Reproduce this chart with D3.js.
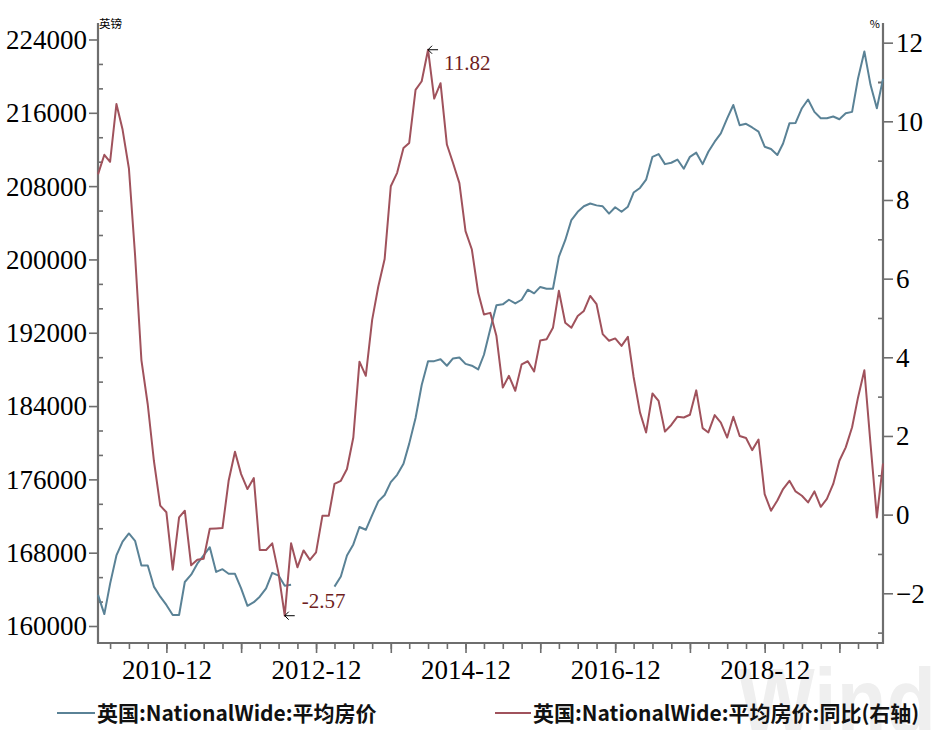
<!DOCTYPE html>
<html><head><meta charset="utf-8">
<script src="https://cdn.jsdelivr.net/npm/d3@7"></script>
<style>body{margin:0;background:#fff;} svg{display:block;}</style>
</head><body>
<svg id="c" width="944" height="730"></svg>
<script>
// ---- data ----
const startMonth = "2010-01";
const endMonth = "2020-07";
// 英国:NationalWide:平均房价 (英镑), monthly from 2010-01
const priceValues = [
163400,161300,164600,167700,169200,170100,169300,166600,166600,164300,163200,162300,
161200,161200,164800,165600,166800,167700,168600,165900,166200,165700,165700,164100,
162200,162600,163200,164100,165800,165500,164400,164500,null,null,null,null,
null,null,164300,165400,167700,168900,170800,170500,172100,173600,174300,175700,
176500,177700,179900,182700,186300,188900,188900,189100,188400,189200,189300,188600,
188400,188000,189600,192400,195000,195100,195600,195200,195600,196700,196300,197000,
196800,196800,200300,202100,204300,205200,205800,206100,205900,205800,205000,205700,
205200,205750,207300,207800,208700,211200,211500,210400,210550,210900,209900,211200,
211650,210400,211750,212850,213750,215400,216850,214650,214800,214400,213950,212300,
212050,211400,212650,214850,214900,216500,217450,216100,215400,215400,215600,215300,
215950,216100,219750,222700,219050,216500,219700
];
// 英国:NationalWide:平均房价:同比 (%), monthly from 2010-01
const yoyValues = [
8.65,9.15,8.97,10.44,9.79,8.8,6.6,3.93,2.8,1.37,0.23,0.06,
-1.40,-0.07,0.10,-1.29,-1.15,-1.12,-0.36,-0.35,-0.34,0.86,1.60,1.03,
0.65,0.93,-0.90,-0.90,-0.73,-1.5,-2.57,-0.73,-1.34,-0.91,-1.15,-0.96,
-0.03,-0.03,0.78,0.86,1.16,1.96,3.89,3.53,4.95,5.8,6.5,8.35,
8.69,9.32,9.45,10.8,11.02,11.82,10.58,10.97,9.41,8.94,8.43,7.21,
6.74,5.64,5.09,5.13,4.54,3.23,3.53,3.15,3.82,3.9,3.64,4.43,
4.46,4.75,5.69,4.88,4.75,5.05,5.18,5.56,5.35,4.59,4.42,4.48,
4.29,4.52,3.5,2.6,2.09,3.08,2.89,2.11,2.28,2.49,2.47,2.54,
3.16,2.2,2.09,2.53,2.34,1.96,2.49,2.0,1.95,1.64,1.91,0.52,
0.1,0.36,0.65,0.86,0.59,0.48,0.31,0.59,0.2,0.4,0.78,1.37,
1.71,2.22,2.98,3.67,1.8,-0.07,1.3
];
const leftTicks = [160000,168000,176000,184000,192000,200000,208000,216000,224000];
const rightTicks = [-2,0,2,4,6,8,10,12];
const xLabelMonths = ["2010-12","2012-12","2014-12","2016-12","2018-12"];
const seriesNames = ["英国:NationalWide:平均房价","英国:NationalWide:平均房价:同比(右轴)"];
const seriesColors = ["#5a8296","#a0525c"];
const annotationLabels = ["11.82","-2.57"];
const annotationMonths = ["2014-06","2012-07"];
const annotationValues = [11.82,-2.57];
const leftUnit = "英镑", rightUnit = "%";

// ---- layout ----
const L = 98, R = 883, T = 23, B = 643;
const parse = d3.timeParse("%Y-%m");
const months = d3.timeMonth.range(parse(startMonth), d3.timeMonth.offset(parse(endMonth), 1));
const svg = d3.select("#c");

const x = d3.scaleTime().domain([parse(startMonth), parse(endMonth)]).range([L, R]);
const yL = d3.scaleLinear().domain([158145, 225800]).range([B, T]);
const yR = d3.scaleLinear().domain([-3.264, 12.5]).range([B, T]);

const axisColor = "#6e6e6e";
const serif = "'Liberation Serif','Times New Roman',serif";
const cjk = "'Noto Sans CJK SC','Noto Sans',sans-serif";

// watermark (faint, cut by the bottom edge as in the reference)
svg.append("text").attr("x", 738).attr("y", 733).text("Wind")
  .attr("textLength", 198).attr("lengthAdjust", "spacingAndGlyphs")
  .attr("font-family", "'Liberation Sans',Arial,sans-serif").attr("font-weight", "bold")
  .attr("font-size", 92).attr("fill", "#efefef");

function styleAxis(g) {
  g.select(".domain").remove();
  g.selectAll(".tick line").attr("stroke", axisColor).attr("stroke-width", 1.6);
  g.selectAll(".tick text").attr("fill", "#000").attr("font-family", serif).attr("font-size", 27);
}

// left axis
const gl = svg.append("g").attr("transform", `translate(${L},0)`)
  .call(d3.axisLeft(yL).tickValues(leftTicks).tickSize(9).tickPadding(2).tickFormat(d3.format("d")));
styleAxis(gl);
gl.selectAll(".tick text").attr("dy", "0.33em");
const leftMinor = [];
for (let i = 0; i < leftTicks.length - 1; i++) {
  const step = (leftTicks[i + 1] - leftTicks[i]) / 3;
  leftMinor.push(leftTicks[i] + step, leftTicks[i] + 2 * step);
}
styleAxis(svg.append("g").attr("transform", `translate(${L},0)`)
  .call(d3.axisRight(yL).tickValues(leftMinor).tickSize(5).tickFormat("")));

// right axis
const gr = svg.append("g").attr("transform", `translate(${R},0)`)
  .call(d3.axisRight(yR).tickValues(rightTicks).tickSize(10).tickPadding(3).tickFormat(d3.format("d")));
styleAxis(gr);
gr.selectAll(".tick text").attr("dy", "0.33em");
const rightMinor = rightTicks.map(v => v - 1);
rightMinor.push(rightTicks[rightTicks.length - 1] - 1);
styleAxis(svg.append("g").attr("transform", `translate(${R},0)`)
  .call(d3.axisLeft(yR).tickValues(rightMinor).tickSize(5).tickFormat("")));

// bottom axis
const quarterTicks = months.filter(d => d.getMonth() % 3 === 2 && d < parse(endMonth));
const yearTicks = quarterTicks.filter(d => d.getMonth() === 11);
styleAxis(svg.append("g").attr("transform", `translate(0,${B})`)
  .call(d3.axisBottom(x).tickValues(quarterTicks).tickSize(6).tickFormat("")));
styleAxis(svg.append("g").attr("transform", `translate(0,${B})`)
  .call(d3.axisBottom(x).tickValues(yearTicks).tickSize(10).tickFormat("")));
const gb = svg.append("g").attr("transform", `translate(0,${B})`)
  .call(d3.axisBottom(x).tickValues(xLabelMonths.map(parse)).tickSize(0).tickFormat(d3.timeFormat("%Y-%m")));
styleAxis(gb);
gb.selectAll(".tick text").attr("y", 36).attr("dy", 0);

// spines
svg.append("path").attr("d", `M${L},${T}V${B}H${R}V${T}`).attr("fill", "none")
  .attr("stroke", axisColor).attr("stroke-width", 2.2);

// unit labels
svg.append("text").attr("x", L + 1).attr("y", 28).text(leftUnit)
  .attr("font-family", cjk).attr("font-size", 11.5).attr("fill", "#000");
svg.append("text").attr("x", R - 3).attr("y", 28).attr("text-anchor", "end").text(rightUnit)
  .attr("font-family", cjk).attr("font-size", 11).attr("fill", "#000");

// lines
const priceData = months.map((d, i) => ({d, v: priceValues[i]}));
const yoyData = months.map((d, i) => ({d, v: yoyValues[i]}));
svg.append("path").datum(priceData)
  .attr("d", d3.line().defined(p => p.v != null).x(p => x(p.d)).y(p => yL(p.v)))
  .attr("fill", "none").attr("stroke", seriesColors[0]).attr("stroke-width", 2).attr("stroke-linejoin", "round");
svg.append("path").datum(yoyData)
  .attr("d", d3.line().defined(p => p.v != null).x(p => x(p.d)).y(p => yR(p.v)))
  .attr("fill", "none").attr("stroke", seriesColors[1]).attr("stroke-width", 2).attr("stroke-linejoin", "round");

// annotations
annotationLabels.forEach((lab, i) => {
  const px = x(parse(annotationMonths[i])), py = yR(annotationValues[i]);
  svg.append("path").attr("d", `M${px},${py}h10M${px + 4},${py - 4}L${px},${py}L${px + 4},${py + 4}`)
    .attr("fill", "none").attr("stroke", "#000").attr("stroke-width", 1);
  const up = i === 0;
  svg.append("text").attr("x", px + (up ? 16 : 17)).attr("y", py + (up ? 20 : -8))
    .text(lab).attr("font-family", serif).attr("font-size", 21).attr("fill", "#6e1e1e");
});

// legend
const legX = [57, 495], legTextX = [97, 533], legY = 713;
seriesNames.forEach((name, i) => {
  svg.append("line").attr("x1", legX[i]).attr("x2", legTextX[i] - 2).attr("y1", legY).attr("y2", legY)
    .attr("stroke", seriesColors[i]).attr("stroke-width", 2);
  svg.append("text").attr("x", legTextX[i]).attr("y", 721).text(name)
    .attr("font-family", cjk).attr("font-weight", "bold").attr("font-size", 21).attr("fill", "#111");
});
</script>
</body></html>
